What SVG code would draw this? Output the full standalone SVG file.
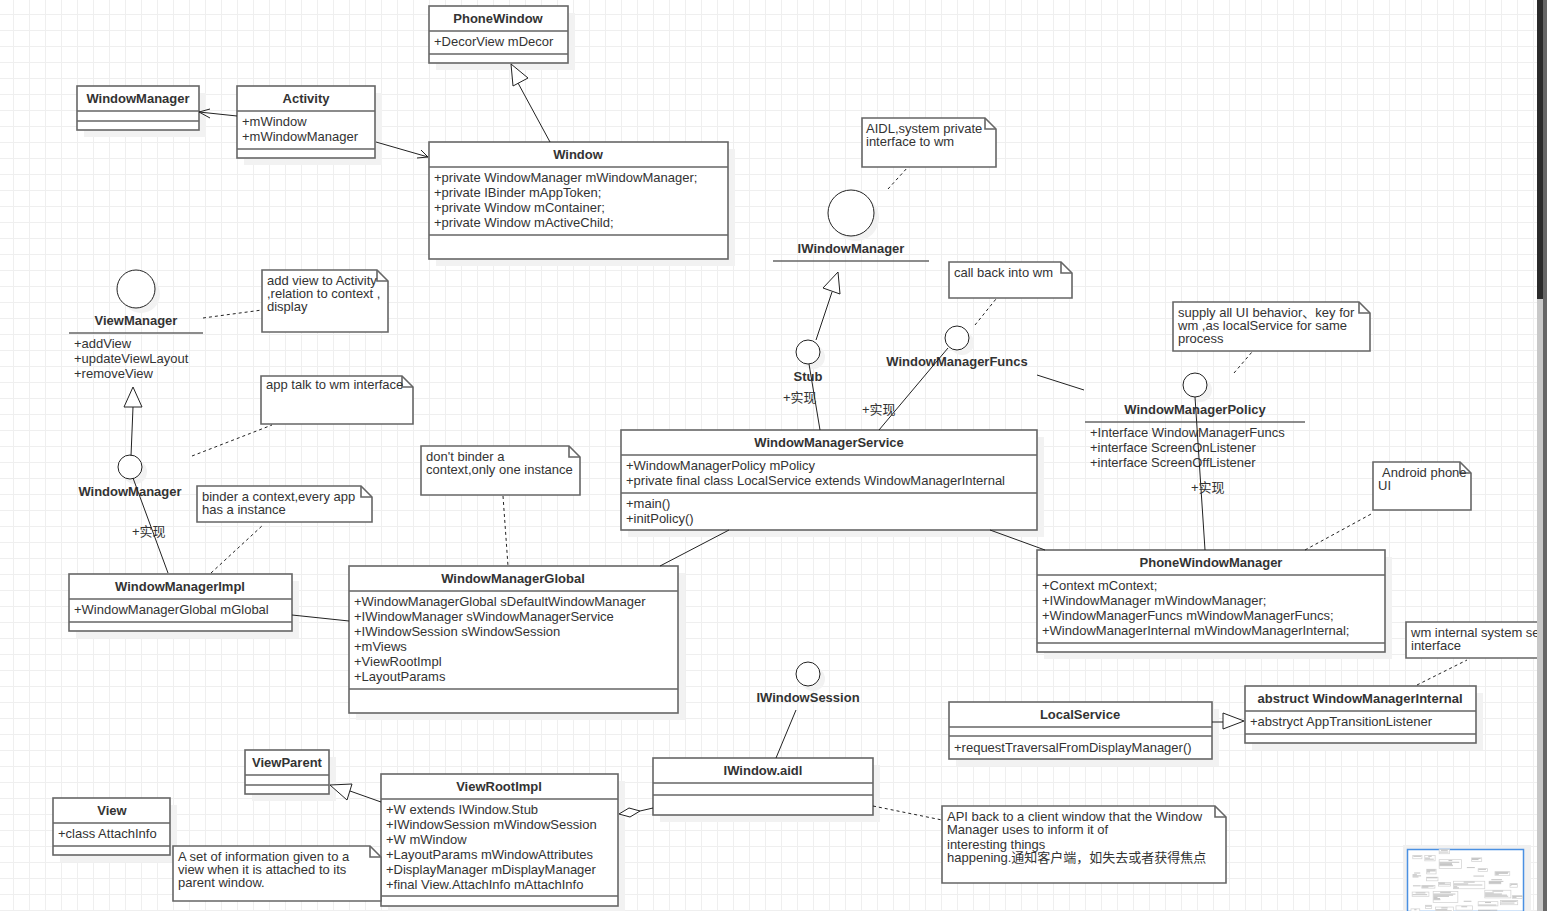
<svg xmlns="http://www.w3.org/2000/svg" width="1547" height="911" viewBox="0 0 1547 911">
<style>
text{font-family:"Liberation Sans","Noto Sans CJK SC",Arial,sans-serif;font-size:13px;fill:#333}
.t{font-weight:bold;text-anchor:middle}
.b{fill:#fff;stroke:#666;stroke-width:1.6}
.s{fill:#f2f2f2;stroke:none}
.d{stroke:#666;stroke-width:1.6;fill:none}
.c{stroke:#222;stroke-width:1;fill:none}
.dash{stroke:#222;stroke-width:1;fill:none;stroke-dasharray:3 3}
.h{stroke:#222;stroke-width:1;fill:#fff}
.o{stroke:#222;stroke-width:1;fill:#fff}
.mb{fill:#fff;stroke:#d4d4d4;stroke-width:10}
.ml{fill:none;stroke:#a8a8a8;stroke-width:9}
</style>
<defs>
<pattern id="g" width="16" height="16" patternUnits="userSpaceOnUse" x="13" y="14"><path d="M0 .5H16M.5 0V16" stroke="#efefef" stroke-width="1" fill="none"/></pattern>
</defs>
<rect width="1547" height="911" fill="#fff"/>
<rect width="1547" height="911" fill="url(#g)"/>
<g id="PhoneWindow"><rect class="s" x="436" y="13" width="139" height="57"/><rect class="b" x="429" y="6" width="139" height="57"/><path class="d" d="M429 31H568M429 54H568"/><text class="t" x="498" y="23">PhoneWindow</text><text x="434" y="46">+DecorView mDecor</text></g>
<g id="WindowManagerTop"><rect class="s" x="84" y="93" width="122" height="44"/><rect class="b" x="77" y="86" width="122" height="44"/><path class="d" d="M77 111H199M77 121H199"/><text class="t" x="138" y="103">WindowManager</text></g>
<g id="Activity"><rect class="s" x="244" y="93" width="138" height="72"/><rect class="b" x="237" y="86" width="138" height="72"/><path class="d" d="M237 111H375M237 149H375"/><text class="t" x="306" y="103">Activity</text><text x="242" y="126">+mWindow</text><text x="242" y="141">+mWindowManager</text></g>
<g id="Window"><rect class="s" x="436" y="149" width="299" height="117"/><rect class="b" x="429" y="142" width="299" height="117"/><path class="d" d="M429 167H728M429 235H728"/><text class="t" x="578" y="159">Window</text><text x="434" y="182">+private WindowManager mWindowManager;</text><text x="434" y="197">+private IBinder mAppToken;</text><text x="434" y="212">+private Window mContainer;</text><text x="434" y="227">+private Window mActiveChild;</text></g>
<g id="noteAidl"><path class="b" d="M862 118H985L996 129V167H862Z"/><path class="d" d="M985 118V129H996"/><text x="866" y="133">AIDL,system private</text><text x="866" y="146">interface to wm</text></g>
<g id="IWindowManager"><circle class="s" cx="856" cy="218" r="23"/><circle class="o" cx="851" cy="213" r="23"/><text class="t" x="851" y="253">IWindowManager</text><path class="d" d="M773 261H929"/></g>
<g id="noteCallback"><path class="b" d="M949 262H1061L1072 273V298H949Z"/><path class="d" d="M1061 262V273H1072"/><text x="954" y="277">call back into wm</text></g>
<g id="WindowManagerFuncs"><circle class="s" cx="962" cy="343" r="12"/><circle class="o" cx="957" cy="338" r="12"/><text class="t" x="957" y="366">WindowManagerFuncs</text></g>
<g id="Stub"><circle class="s" cx="813" cy="357" r="12"/><circle class="o" cx="808" cy="352" r="12"/><text class="t" x="808" y="381">Stub</text></g>
<g id="notePolicy"><path class="b" d="M1173 302H1359L1370 313V351H1173Z"/><path class="d" d="M1359 302V313H1370"/><text x="1178" y="317">supply all UI behavior、key for</text><text x="1178" y="330">wm ,as localService for same</text><text x="1178" y="343">process</text></g>
<g id="WindowManagerPolicy"><circle class="s" cx="1200" cy="390" r="12"/><circle class="o" cx="1195" cy="385" r="12"/><text class="t" x="1195" y="414">WindowManagerPolicy</text><path class="d" d="M1085 422H1305"/><text x="1090" y="437">+Interface WindowManagerFuncs</text><text x="1090" y="452">+interface ScreenOnListener</text><text x="1090" y="467">+interface ScreenOffListener</text></g>
<g id="ViewManager"><circle class="s" cx="141" cy="294" r="19"/><circle class="o" cx="136" cy="289" r="19"/><text class="t" x="136" y="325">ViewManager</text><path class="d" d="M69 333H203"/><text x="74" y="348">+addView</text><text x="74" y="363">+updateViewLayout</text><text x="74" y="378">+removeView</text></g>
<g id="noteAddView"><path class="b" d="M262 270H377L388 281V332H262Z"/><path class="d" d="M377 270V281H388"/><text x="267" y="285">add view to Activity</text><text x="267" y="298">,relation to context ,</text><text x="267" y="311">display</text></g>
<g id="noteAppTalk"><path class="b" d="M261 376H402L413 387V424H261Z"/><path class="d" d="M402 376V387H413"/><text x="266" y="389">app talk to wm interface</text></g>
<g id="WindowManagerLollipop"><circle class="s" cx="135" cy="472" r="12"/><circle class="o" cx="130" cy="467" r="12"/><text class="t" x="130" y="496">WindowManager</text></g>
<g id="noteBinder"><path class="b" d="M197 486H361L372 497V522H197Z"/><path class="d" d="M361 486V497H372"/><text x="202" y="501">binder a context,every app</text><text x="202" y="514">has a instance</text></g>
<g id="noteGlobal"><path class="b" d="M421 446H569L580 457V495H421Z"/><path class="d" d="M569 446V457H580"/><text x="426" y="461">don't binder a</text><text x="426" y="474">context,only one instance</text></g>
<g id="WindowManagerService"><rect class="s" x="628" y="437" width="416" height="100"/><rect class="b" x="621" y="430" width="416" height="100"/><path class="d" d="M621 455H1037M621 493H1037"/><text class="t" x="829" y="447">WindowManagerService</text><text x="626" y="470">+WindowManagerPolicy mPolicy</text><text x="626" y="485">+private final class LocalService extends WindowManagerInternal</text><text x="626" y="508">+main()</text><text x="626" y="523">+initPolicy()</text></g>
<g id="noteAndroid"><path class="b" d="M1373 462H1460L1471 473V510H1373Z"/><path class="d" d="M1460 462V473H1471"/><text x="1382" y="477">Android phone</text><text x="1378" y="490">UI</text></g>
<g id="PhoneWindowManager"><rect class="s" x="1044" y="557" width="348" height="102"/><rect class="b" x="1037" y="550" width="348" height="102"/><path class="d" d="M1037 575H1385M1037 643H1385"/><text class="t" x="1211" y="567">PhoneWindowManager</text><text x="1042" y="590">+Context mContext;</text><text x="1042" y="605">+IWindowManager mWindowManager;</text><text x="1042" y="620">+WindowManagerFuncs mWindowManagerFuncs;</text><text x="1042" y="635">+WindowManagerInternal mWindowManagerInternal;</text></g>
<g id="WindowManagerImpl"><rect class="s" x="76" y="581" width="223" height="57"/><rect class="b" x="69" y="574" width="223" height="57"/><path class="d" d="M69 599H292M69 622H292"/><text class="t" x="180" y="591">WindowManagerImpl</text><text x="74" y="614">+WindowManagerGlobal mGlobal</text></g>
<g id="WindowManagerGlobal"><rect class="s" x="356" y="573" width="329" height="147"/><rect class="b" x="349" y="566" width="329" height="147"/><path class="d" d="M349 591H678M349 689H678"/><text class="t" x="513" y="583">WindowManagerGlobal</text><text x="354" y="606">+WindowManagerGlobal sDefaultWindowManager</text><text x="354" y="621">+IWindowManager sWindowManagerService</text><text x="354" y="636">+IWindowSession sWindowSession</text><text x="354" y="651">+mViews</text><text x="354" y="666">+ViewRootImpl</text><text x="354" y="681">+LayoutParams</text></g>
<g id="noteInternal"><path class="b" d="M1406 622H1545V658H1406Z"/><text x="1411" y="637">wm internal system se</text><text x="1411" y="650">interface</text></g>
<g id="IWindowSession"><circle class="s" cx="813" cy="679" r="12"/><circle class="o" cx="808" cy="674" r="12"/><text class="t" x="808" y="702">IWindowSession</text></g>
<g id="WindowManagerInternal"><rect class="s" x="1252" y="693" width="231" height="57"/><rect class="b" x="1245" y="686" width="231" height="57"/><path class="d" d="M1245 711H1476M1245 734H1476"/><text class="t" x="1360" y="703">abstruct WindowManagerInternal</text><text x="1250" y="726">+abstryct AppTransitionListener</text></g>
<g id="LocalService"><rect class="s" x="956" y="709" width="263" height="57"/><rect class="b" x="949" y="702" width="263" height="57"/><path class="d" d="M949 727H1212M949 736H1212"/><text class="t" x="1080" y="719">LocalService</text><text x="954" y="752">+requestTraversalFromDisplayManager()</text></g>
<g id="ViewParent"><rect class="s" x="252" y="757" width="84" height="44"/><rect class="b" x="245" y="750" width="84" height="44"/><path class="d" d="M245 775H329M245 785H329"/><text class="t" x="287" y="767">ViewParent</text></g>
<g id="ViewRootImpl"><rect class="s" x="388" y="781" width="237" height="132"/><rect class="b" x="381" y="774" width="237" height="132"/><path class="d" d="M381 799H618M381 896H618"/><text class="t" x="499" y="791">ViewRootImpl</text><text x="386" y="814">+W extends IWindow.Stub</text><text x="386" y="829">+IWindowSession mWindowSession</text><text x="386" y="844">+W mWindow</text><text x="386" y="859">+LayoutParams mWindowAttributes</text><text x="386" y="874">+DisplayManager mDisplayManager</text><text x="386" y="889">+final View.AttachInfo mAttachInfo</text></g>
<g id="IWindowAidl"><rect class="s" x="660" y="765" width="220" height="57"/><rect class="b" x="653" y="758" width="220" height="57"/><path class="d" d="M653 783H873M653 795H873"/><text class="t" x="763" y="775">IWindow.aidl</text></g>
<g id="View"><rect class="s" x="60" y="805" width="117" height="57"/><rect class="b" x="53" y="798" width="117" height="57"/><path class="d" d="M53 823H170M53 846H170"/><text class="t" x="112" y="815">View</text><text x="58" y="838">+class AttachInfo</text></g>
<g id="noteAttach"><path class="b" d="M173 846H370L381 857V901H173Z"/><path class="d" d="M370 846V857H381"/><text x="178" y="861">A set of information given to a</text><text x="178" y="874">view when it is attached to its</text><text x="178" y="887">parent window.</text></g>
<g id="noteApi"><path class="b" d="M942 806H1215L1226 817V883H942Z"/><path class="d" d="M1215 806V817H1226"/><text x="947" y="821">API back to a client window that the Window</text><text x="947" y="834">Manager uses to inform it of</text><text x="947" y="849">interesting things</text><text x="947" y="862">happening.通知客户端，如失去或者获得焦点</text></g>
<g id="connectors">
<path class="c" d="M237 116L199 112M210 109L199 112L210 118"/>
<path class="c" d="M376 142L428 157M421 150L428 157L417 158"/>
<path class="c" d="M550 142L518 83"/><path class="h" d="M511 64L528 78L513 86Z"/>
<path class="c" d="M816 340L832 292"/><path class="h" d="M838 272L840 294L823 288Z"/>
<path class="c" d="M809 364L820 430"/>
<path class="c" d="M879 430L948 348"/>
<path class="c" d="M1037 375L1084 390"/>
<path class="c" d="M1195 397L1205 550"/>
<path class="c" d="M133 407L131 456"/><path class="h" d="M133 387L142 407L124 407Z"/>
<path class="c" d="M133 478L168 573"/>
<path class="c" d="M292 615L349 621"/>
<path class="c" d="M660 566L729 530"/>
<path class="c" d="M990 530L1045 550"/>
<path class="c" d="M1212 722L1223 722"/><path class="h" d="M1244 721L1223 713V729Z"/>
<path class="c" d="M381 802L350 791"/><path class="h" d="M330 785L352 784L347 800Z"/>
<path class="c" d="M653 808L640 811"/><path class="h" d="M619 814L629 808L640 811L630 817Z"/>
<path class="c" d="M776 758L796 710"/>
<path class="dash" d="M888 189L908 167"/>
<path class="dash" d="M975 325L996 299"/>
<path class="dash" d="M1234 373L1252 352"/>
<path class="dash" d="M203 318L262 310"/>
<path class="dash" d="M192 456L272 425"/>
<path class="dash" d="M211 573L263 525"/>
<path class="dash" d="M503 496L508 566"/>
<path class="dash" d="M1305 550L1373 513"/>
<path class="dash" d="M1417 685L1467 660"/>
<path class="dash" d="M873 806L942 820"/>
</g>
<g id="labels">
<text x="783" y="402">+实现</text>
<text x="862" y="414">+实现</text>
<text x="1191" y="492">+实现</text>
<text x="132" y="536">+实现</text>
</g>
<g id="chrome">
<rect x="1537" y="0" width="10" height="911" fill="#c8c8c8"/>
<rect x="1543" y="0" width="4" height="911" fill="#666"/>
<rect x="1537" y="0" width="6" height="299" fill="#2b2b2b"/>
<rect x="1403" y="845" width="128" height="66" fill="#f0f0f0"/>
<rect x="1407.500" y="849.500" width="116" height="62" fill="#fff" stroke="#4a90e2" stroke-width="1.500"/>
<g transform="translate(1407 849) scale(.075)">
<rect class="mb" x="429" y="6" width="139" height="57"/><rect class="mb" x="77" y="86" width="122" height="44"/><rect class="mb" x="237" y="86" width="138" height="72"/><rect class="mb" x="429" y="142" width="299" height="117"/><rect class="mb" x="862" y="118" width="134" height="49"/><rect class="mb" x="949" y="262" width="123" height="36"/><rect class="mb" x="1173" y="302" width="197" height="49"/><rect class="mb" x="262" y="270" width="126" height="62"/><rect class="mb" x="261" y="376" width="152" height="48"/><rect class="mb" x="197" y="486" width="175" height="36"/><rect class="mb" x="421" y="446" width="159" height="49"/><rect class="mb" x="621" y="430" width="416" height="100"/><rect class="mb" x="1373" y="462" width="98" height="48"/><rect class="mb" x="1037" y="550" width="348" height="102"/><rect class="mb" x="69" y="574" width="223" height="57"/><rect class="mb" x="349" y="566" width="329" height="147"/><rect class="mb" x="1406" y="622" width="131" height="36"/><rect class="mb" x="1245" y="686" width="231" height="57"/><rect class="mb" x="949" y="702" width="263" height="57"/><rect class="mb" x="245" y="750" width="84" height="44"/><rect class="mb" x="381" y="774" width="237" height="132"/><rect class="mb" x="653" y="758" width="220" height="57"/><rect class="mb" x="53" y="798" width="117" height="57"/><rect class="mb" x="173" y="846" width="208" height="55"/>
<path class="ml" d="M453 18H543M434 41H553M86 98H189M283 98H329M242 121H307M242 136H357M554 154H603M434 177H697M434 192H600M434 207H604M434 222H613M866 128H982M866 141H954M798 248H904M954 272H1053M886 361H1027M1178 312H1354M1178 325H1346M1178 338H1224M1124 409H1266M1090 432H1285M1090 447H1256M1090 462H1256M95 320H177M74 343H132M74 358H188M74 373H153M267 280H378M267 293H381M267 306H307M266 384H403M79 491H182M202 496H355M202 509H285M426 456H505M426 469H573M755 442H903M626 465H815M626 480H1005M626 503H670M626 518H693M1382 472H1466M1378 485H1392M1139 562H1282M1042 585H1157M1042 600H1266M1042 615H1333M1042 630H1349M115 586H245M74 609H269M442 578H585M354 601H646M354 616H614M354 631H560M354 646H407M354 661H441M354 676H445M1411 632H1537M1411 645H1460M756 697H859M1258 698H1463M1250 721H1433M1040 714H1120M954 747H1192M252 762H322M457 786H542M386 809H538M386 824H597M386 839H467M386 854H593M386 869H596M386 884H584M724 770H802M97 810H127M58 833H158M178 856H350M178 869H347M178 882H264M947 816H1203M947 829H1109M947 844H1018M947 857H1207"/>
</g>
</g>
</svg>
